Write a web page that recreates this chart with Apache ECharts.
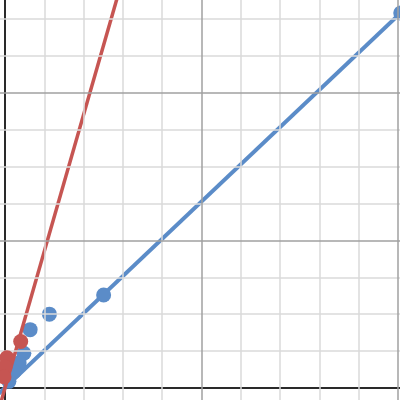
<!DOCTYPE html>
<html>
<head>
<meta charset="utf-8">
<script src="https://cdn.jsdelivr.net/npm/echarts@6/dist/echarts.min.js"></script>
<style>html,body{margin:0;padding:0;background:#fff;}#c{width:400px;height:400px;}</style>
</head>
<body>
<div id="c"></div>
<script>
// Blue data points [x, y]
var bluePoints = [[10.07, 5.08], [2.51, 1.26], [1.13, 1.0], [0.64, 0.79], [0.48, 0.47], [0.36, 0.34], [0.23, 0.22], [0.1, 0.09]];
// Red data points [x, y]
var redPoints = [[0.40, 0.63], [0.05, 0.41], [0.0, 0.285], [-0.025, 0.15]];
// Fitted lines (endpoints)
var blueLine = [[-0.3, -0.15], [10.6, 5.35]];
var redLine = [[-0.2, -0.37], [3.1, 5.74]];
// Grid line positions
var minorX = [1, 2, 3, 4, 6, 7, 8, 9];
var minorY = [0.5, 1, 1.5, 2.5, 3, 3.5, 4.5, 5];
var majorX = [5, 10];
var majorY = [2, 4];

var blue = '#5b8cc8', red = '#c65552';
function lines(xs, ys) {
  return xs.map(function(v){return {xAxis: v};}).concat(ys.map(function(v){return {yAxis: v};}));
}
var chart = echarts.init(document.getElementById('c'));
chart.setOption({
  animation: false,
  backgroundColor: '#ffffff',
  grid: {left: 0, right: 0, top: 0, bottom: 0, containLabel: false},
  xAxis: {type: 'value', min: -0.127, max: 10.051,
    axisLine: {show: true, onZero: true, lineStyle: {color: '#2a2a2a', width: 2}},
    axisTick: {show: false}, axisLabel: {show: false}, splitLine: {show: false}},
  yAxis: {type: 'value', min: -0.163, max: 5.257,
    axisLine: {show: true, onZero: true, lineStyle: {color: '#2a2a2a', width: 2}},
    axisTick: {show: false}, axisLabel: {show: false}, splitLine: {show: false}},
  series: [
    {type: 'scatter', data: [], z: 1, silent: true,
      markLine: {silent: true, symbol: 'none', label: {show: false}, animation: false,
        lineStyle: {color: '#dadada', width: 1.5, type: 'solid'},
        data: lines(minorX, minorY)}},
    {type: 'scatter', data: [], z: 1, silent: true,
      markLine: {silent: true, symbol: 'none', label: {show: false}, animation: false,
        lineStyle: {color: '#a0a0a0', width: 1.5, type: 'solid'},
        data: lines(majorX, majorY)}},
    {type: 'line', data: blueLine, showSymbol: false, z: 2, lineStyle: {color: blue, width: 4}},
    {type: 'scatter', data: bluePoints, symbolSize: 15, z: 3, clip: false, itemStyle: {color: blue, opacity: 1}},
    {type: 'line', data: redLine, showSymbol: false, z: 4, lineStyle: {color: red, width: 3.5}},
    {type: 'scatter', data: redPoints, symbolSize: 15, z: 5, clip: false, itemStyle: {color: red, opacity: 1}}
  ]
});
</script>
</body>
</html>
